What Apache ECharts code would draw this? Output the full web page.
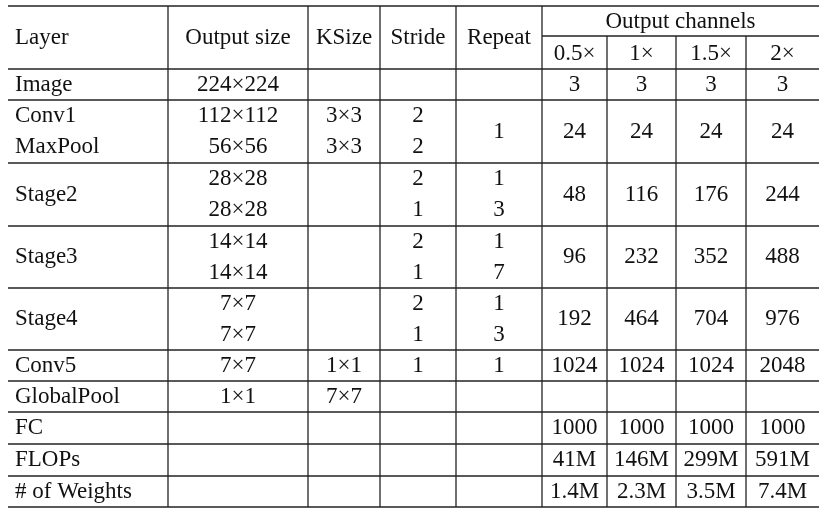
<!DOCTYPE html><html><head><meta charset="utf-8">
<script src="https://cdn.jsdelivr.net/npm/echarts@6/dist/echarts.min.js"></script>
<style>html,body{margin:0;background:#fff}#c{width:824px;height:512px}</style></head><body><div id="c"></div>
<script>
const headers = ["Layer","Output size","KSize","Stride","Repeat"];
const channelHeader = "Output channels";
const widthLabels = ["0.5×","1×","1.5×","2×"];
const layers = [["Image"],["Conv1","MaxPool"],["Stage2"],["Stage3"],["Stage4"],["Conv5"],["GlobalPool"],["FC"],["FLOPs"],["# of Weights"]];
const outputSize = [["224×224"],["112×112","56×56"],["28×28","28×28"],["14×14","14×14"],["7×7","7×7"],["7×7"],["1×1"],[],[],[]];
const kSize = [[],["3×3","3×3"],[],[],[],["1×1"],["7×7"],[],[],[]];
const stride = [[],["2","2"],["2","1"],["2","1"],["2","1"],["1"],[],[],[],[]];
const repeat = [[],["1"],["1","3"],["1","7"],["1","3"],["1"],[],[],[],[]];
const ch05 = ["3","24","48","96","192","1024","","1000","41M","1.4M"];
const ch1  = ["3","24","116","232","464","1024","","1000","146M","2.3M"];
const ch15 = ["3","24","176","352","704","1024","","1000","299M","3.5M"];
const ch2  = ["3","24","244","488","976","2048","","1000","591M","7.4M"];

// layout
const colX = [8,168,308,380,456,542,607,676,746,819];
const rowY = [69,100,163,226,288,350,381,412,444,476,507];
const topY = 6, midY = 36;

const texts = [];
function put(x1,x2,y,t,align){ texts.push([align==='left'?x1+7:(x1+x2)/2, y, t, align||'center']); }
headers.forEach((h,i)=>put(colX[i],colX[i+1],(topY+rowY[0])/2,h,i===0?'left':'center'));
put(colX[5],colX[9],(topY+midY)/2+1,channelHeader);
widthLabels.forEach((w,i)=>put(colX[5+i],colX[6+i],(midY+rowY[0])/2+1,w));
const cols=[layers,outputSize,kSize,stride,repeat];
const chans=[ch05,ch1,ch15,ch2];
for(let r=0;r<layers.length;r++){
  const y1=rowY[r],y2=rowY[r+1],cy=(y1+y2)/2;
  cols.forEach((c,i)=>{
    const arr=c[r];
    arr.forEach((t,k)=>{
      const y = arr.length===1?cy:cy+(k-0.5)*31;
      put(colX[i],colX[i+1],y,t,i===0?'left':'center');
    });
  });
  chans.forEach((c,i)=>{ if(c[r]) put(colX[5+i],colX[6+i],cy,c[r]); });
}
const lines=[];
[topY,...rowY].forEach(y=>lines.push([8,y,819,y]));
lines.push([colX[5],midY,colX[9],midY]);
for(let i=1;i<=5;i++) lines.push([colX[i],topY,colX[i],rowY[rowY.length-1]]);
for(let i=6;i<=8;i++) lines.push([colX[i],midY,colX[i],rowY[rowY.length-1]]);

const chart=echarts.init(document.getElementById('c'));
chart.setOption({
  animation:false,
  grid:{left:0,right:0,top:0,bottom:0},
  xAxis:{type:'value',min:0,max:824,show:false},
  yAxis:{type:'value',min:0,max:512,inverse:true,show:false},
  series:[
    {type:'custom',data:lines,renderItem:(p,api)=>{
      const a=api.coord([api.value(0),api.value(1)]),b=api.coord([api.value(2),api.value(3)]);
      return {type:'line',shape:{x1:a[0],y1:a[1],x2:b[0],y2:b[1]},style:{stroke:'#222',lineWidth:1.3}};
    }},
    {type:'custom',data:texts.map(t=>[t[0],t[1],t[2],t[3]]),dimensions:['x','y','t','a'],
     encode:{x:0,y:1},renderItem:(p,api)=>{
      const d=texts[p.dataIndex];const c=api.coord([d[0],d[1]]);
      return {type:'text',x:c[0],y:c[1],style:{text:d[2],fill:'#111',fontFamily:'Liberation Serif',fontSize:23,align:d[3],verticalAlign:'middle'}};
    }}
  ]
});
</script></body></html>
